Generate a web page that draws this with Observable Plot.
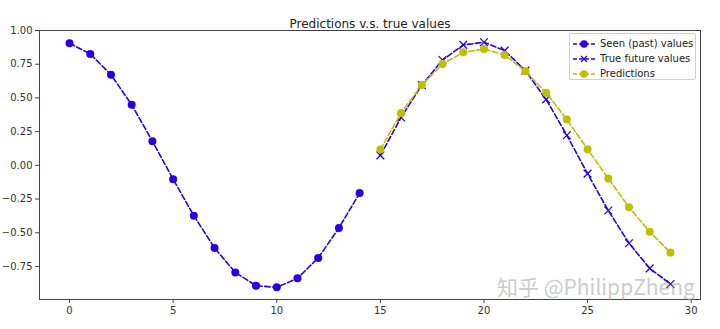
<!DOCTYPE html>
<html>
<head>
<meta charset="utf-8">
<script src="https://cdn.jsdelivr.net/npm/d3@7"></script>
<script src="https://cdn.jsdelivr.net/npm/@observablehq/plot@0.6"></script>
<style>
  html, body { margin: 0; padding: 0; background: #fff; }
  #wrap { position: relative; width: 720px; height: 329px; font-family: "DejaVu Sans", sans-serif; }
  #legend { position: absolute; left: 569px; top: 33px; width: 127px; height: 47px; box-sizing: border-box;
            border: 1px solid #d0d0d0; border-radius: 2px; background: rgba(255,255,255,0.85);
            font-size: 10px; color: #222; padding-top: 2px; }
  .entry { height: 15px; display: flex; align-items: center; }
  .entry svg { margin-left: 3px; margin-right: 5px; }
  #wm { position: absolute; left: 497px; top: 276px; font-size: 21px; line-height: 20px; height: 20px; color: rgba(160,160,160,0.55);
        font-family: "Noto Sans CJK SC", "DejaVu Sans", sans-serif; white-space: nowrap; letter-spacing: 0px; }
</style>
</head>
<body>
<div id="wrap"></div>
<script>
const title = "Predictions v.s. true values";
const seriesNames = ["Seen (past) values", "True future values", "Predictions"];
const blue = "#2a00e0";
const yellow = "#bfbf00";

const pastX = [0, 1, 2, 3, 4, 5, 6, 7, 8, 9, 10, 11, 12, 13, 14];
const pastY = [0.905, 0.826, 0.672, 0.449, 0.179, -0.104, -0.374, -0.613, -0.794, -0.893, -0.905, -0.838, -0.687, -0.464, -0.206];

const futureX = [15, 16, 17, 18, 19, 20, 21, 22, 23, 24, 25, 26, 27, 28, 29];
const trueY = [0.074, 0.355, 0.595, 0.781, 0.893, 0.913, 0.851, 0.702, 0.489, 0.223, -0.062, -0.335, -0.578, -0.764, -0.880];
const predY = [0.117, 0.389, 0.595, 0.751, 0.838, 0.863, 0.818, 0.697, 0.538, 0.340, 0.119, -0.097, -0.310, -0.493, -0.647];

const xTicks = [0, 5, 10, 15, 20, 25, 30];
const yTicks = [-0.75, -0.5, -0.25, 0, 0.25, 0.5, 0.75, 1.0];

const past = pastX.map((x, i) => ({x, y: pastY[i]}));
const truth = futureX.map((x, i) => ({x, y: trueY[i]}));
const pred = futureX.map((x, i) => ({x, y: predY[i]}));

const dash = "5.5,2.5";

const chart = Plot.plot({
  width: 720,
  height: 329,
  marginLeft: 39,
  marginRight: 20,
  marginTop: 30,
  marginBottom: 30,
  style: { fontFamily: "DejaVu Sans, sans-serif", fontSize: "10px", color: "#333", background: "#fff" },
  x: { domain: [-1.45, 30.45] },
  y: { domain: [-0.995, 1.0] },
  marks: [
    Plot.frame({ stroke: "#444", strokeWidth: 1 }),
    Plot.axisX({ ticks: xTicks, tickSize: 4, tickPadding: 3, fontSize: 10, label: null, stroke: "#444" }),
    Plot.axisY({ ticks: yTicks, tickSize: 4, tickPadding: 3, fontSize: 10, label: null, tickFormat: d3.format(".2f"), stroke: "#444" }),
    Plot.line(past, { x: "x", y: "y", stroke: blue, strokeWidth: 1.6, strokeDasharray: dash }),
    Plot.dot(past, { x: "x", y: "y", fill: blue, r: 4 }),
    Plot.line(truth, { x: "x", y: "y", stroke: blue, strokeWidth: 1.6, strokeDasharray: dash }),
    Plot.dot(truth, { x: "x", y: "y", symbol: "times", stroke: blue, strokeWidth: 1.3, r: 3.6 }),
    Plot.line(pred, { x: "x", y: "y", stroke: yellow, strokeWidth: 1.6, strokeDasharray: dash }),
    Plot.dot(pred, { x: "x", y: "y", fill: yellow, r: 4 }),
    Plot.text([title], { text: d => d, frameAnchor: "top", dy: -11, fontSize: 12, fill: "#222" })
  ]
});

const wrap = document.getElementById("wrap");
wrap.appendChild(chart);

// legend
const legend = document.createElement("div");
legend.id = "legend";
const specs = [
  { name: seriesNames[0], color: blue, marker: "dot" },
  { name: seriesNames[1], color: blue, marker: "x" },
  { name: seriesNames[2], color: yellow, marker: "dot" }
];
for (const s of specs) {
  const row = document.createElement("div");
  row.className = "entry";
  const m = s.marker === "dot"
    ? `<circle cx="11" cy="5" r="3.8" fill="${s.color}"/>`
    : `<path d="M8,2L14,8M14,2L8,8" stroke="${s.color}" stroke-width="1.3"/>`;
  row.innerHTML = `<svg width="22" height="10"><line x1="0" y1="5" x2="22" y2="5" stroke="${s.color}" stroke-width="1.6" stroke-dasharray="4,2"/>${m}</svg><span>${s.name}</span>`;
  legend.appendChild(row);
}
wrap.appendChild(legend);

const wm = document.createElement("div");
wm.id = "wm";
wm.textContent = "知乎 @PhilippZheng";
wrap.appendChild(wm);
</script>
</body>
</html>
